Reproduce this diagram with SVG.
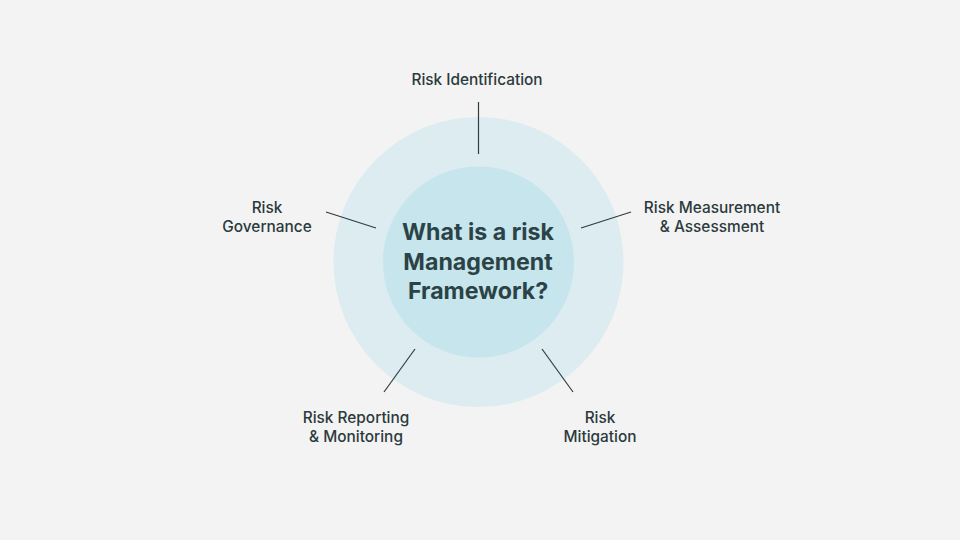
<svg xmlns="http://www.w3.org/2000/svg" width="960" height="540" viewBox="0 0 960 540">
<style>
.lbl{font-family:Inter,"Noto Sans","Liberation Sans",sans-serif;font-size:15.4px;font-weight:500;fill:#2b3a3c;text-anchor:middle}
.ttl{font-family:Inter,"Noto Sans","Liberation Sans",sans-serif;font-size:23.2px;font-weight:700;fill:#2b4346;text-anchor:middle}
.ln{stroke:#2e3d40;stroke-width:1.2;fill:none}
</style>
<rect width="960" height="540" fill="#f3f3f3"/>
<g id="hub">
<circle cx="478.5" cy="262" r="145" fill="#dcecf0"/>
<circle cx="478.5" cy="262" r="95.5" fill="#c6e5ec"/>
<text class="ttl" x="478" y="240">What is a risk</text>
<text class="ttl" x="478" y="270">Management</text>
<text class="ttl" x="478" y="299">Framework?</text>
</g>
<g id="connectors">
<line class="ln" x1="478.5" y1="102" x2="478.5" y2="154"/>
<line class="ln" x1="326" y1="212" x2="376" y2="228"/>
<line class="ln" x1="581" y1="228" x2="631" y2="212"/>
<line class="ln" x1="415" y1="349" x2="384" y2="392"/>
<line class="ln" x1="542" y1="349" x2="573" y2="392"/>
</g>
<g id="n-identification"><text class="lbl" x="477" y="85">Risk Identification</text></g>
<g id="n-governance"><text class="lbl" x="267" y="213">Risk</text><text class="lbl" x="267" y="232">Governance</text></g>
<g id="n-measurement"><text class="lbl" x="712" y="213">Risk Measurement</text><text class="lbl" x="712" y="232">&amp; Assessment</text></g>
<g id="n-reporting"><text class="lbl" x="356" y="423">Risk Reporting</text><text class="lbl" x="356" y="442">&amp; Monitoring</text></g>
<g id="n-mitigation"><text class="lbl" x="600" y="423">Risk</text><text class="lbl" x="600" y="442">Mitigation</text></g>
</svg>
